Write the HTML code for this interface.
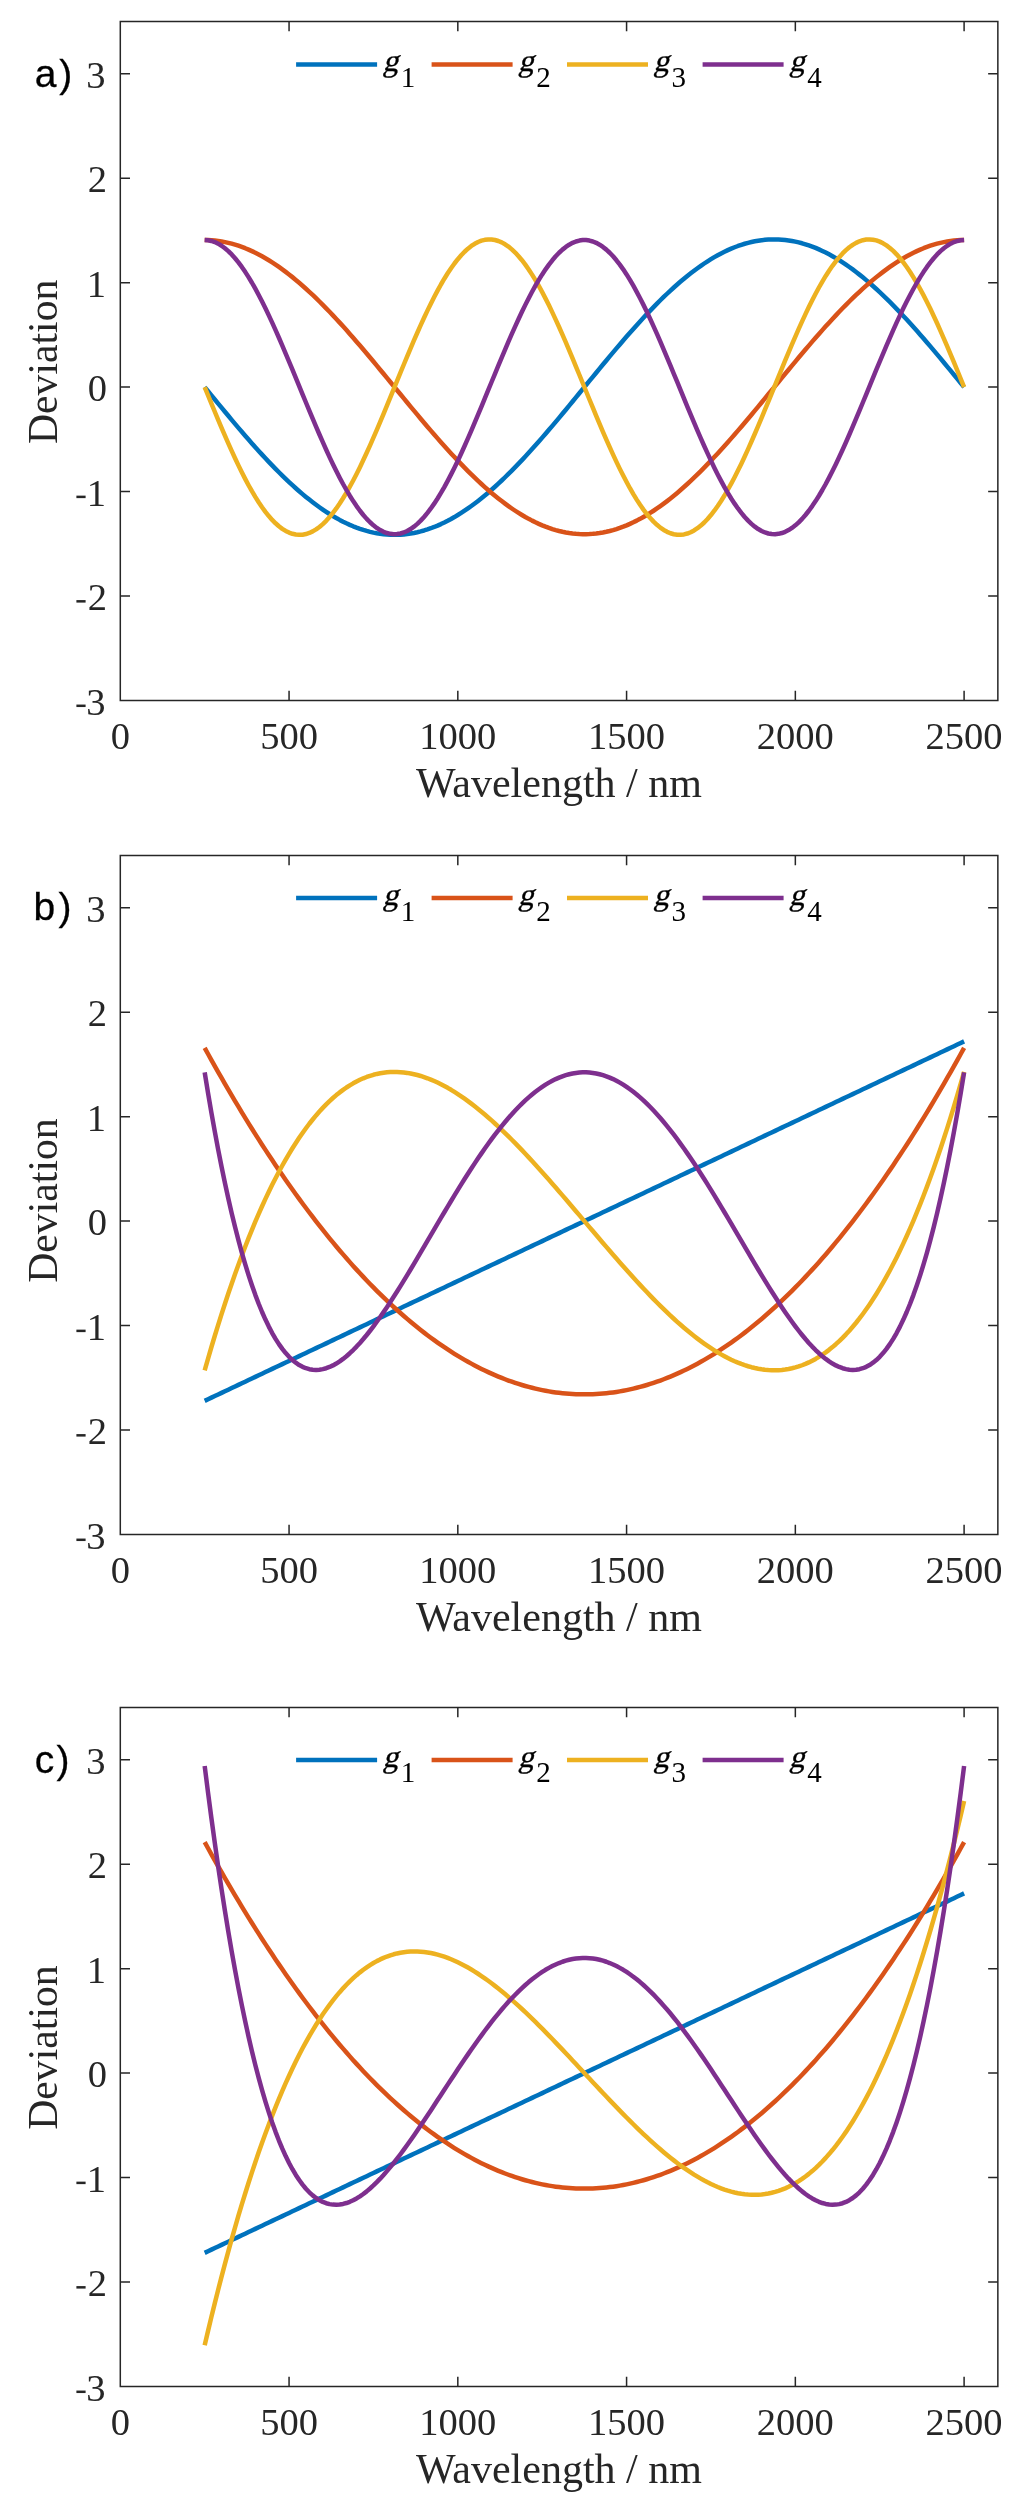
<!DOCTYPE html>
<html><head><meta charset="utf-8"><title>Deviation basis functions</title>
<style>html,body{margin:0;padding:0;background:#fff;}
svg{display:block;will-change:transform;}
.t{font-family:"Liberation Serif",serif;font-size:38.50px;fill:#262626;}
.l{font-family:"Liberation Serif",serif;font-size:42.00px;fill:#262626;}
.p{font-family:"Liberation Sans",sans-serif;font-size:39.00px;fill:#000;stroke:#000;stroke-width:0.30px;}
.g{font-family:"Liberation Serif",serif;font-size:31.00px;fill:#000;stroke:#000;stroke-width:0.35px;}
.s{font-family:"Liberation Serif",serif;font-size:29.00px;fill:#000;}
</style></head>
<body><svg width="1025" height="2511" viewBox="0 0 1025 2511">
<rect width="1025" height="2511" fill="#fff"/>
<polyline fill="none" stroke="#0072BD" stroke-width="4.50" stroke-linejoin="round" points="204.68,387.12 208.06,391.24 211.43,395.36 214.81,399.48 218.18,403.58 221.56,407.68 224.93,411.75 228.31,415.81 231.68,419.84 235.06,423.85 238.43,427.84 241.81,431.78 245.18,435.70 248.56,439.58 251.93,443.41 255.31,447.20 258.68,450.95 262.06,454.64 265.43,458.29 268.81,461.87 272.18,465.40 275.56,468.87 278.93,472.27 282.31,475.61 285.68,478.88 289.06,482.07 292.43,485.20 295.81,488.24 299.19,491.21 302.56,494.10 305.94,496.90 309.31,499.62 312.69,502.25 316.06,504.79 319.44,507.24 322.81,509.59 326.19,511.85 329.56,514.01 332.94,516.07 336.31,518.04 339.69,519.90 343.06,521.65 346.44,523.30 349.81,524.85 353.19,526.29 356.56,527.62 359.94,528.84 363.31,529.95 366.69,530.94 370.06,531.83 373.44,532.60 376.81,533.26 380.19,533.81 383.56,534.24 386.94,534.55 390.32,534.76 393.69,534.84 397.07,534.81 400.44,534.67 403.82,534.41 407.19,534.04 410.57,533.55 413.94,532.95 417.32,532.23 420.69,531.40 424.07,530.46 427.44,529.40 430.82,528.24 434.19,526.96 437.57,525.58 440.94,524.09 444.32,522.49 447.69,520.79 451.07,518.98 454.44,517.07 457.82,515.05 461.19,512.94 464.57,510.73 467.94,508.42 471.32,506.02 474.70,503.53 478.07,500.94 481.45,498.27 484.82,495.51 488.20,492.67 491.57,489.74 494.95,486.73 498.32,483.65 501.70,480.49 505.07,477.25 508.45,473.95 511.82,470.58 515.20,467.14 518.57,463.64 521.95,460.09 525.32,456.47 528.70,452.80 532.07,449.08 535.45,445.31 538.82,441.50 542.20,437.64 545.57,433.75 548.95,429.81 552.32,425.85 555.70,421.85 559.07,417.83 562.45,413.78 565.83,409.72 569.20,405.63 572.58,401.53 575.95,397.42 579.33,393.30 582.70,389.18 586.08,385.05 589.45,380.93 592.83,376.81 596.20,372.70 599.58,368.60 602.95,364.51 606.33,360.45 609.70,356.40 613.08,352.38 616.45,348.38 619.83,344.42 623.20,340.48 626.58,336.59 629.95,332.73 633.33,328.92 636.70,325.15 640.08,321.43 643.45,317.76 646.83,314.14 650.21,310.59 653.58,307.09 656.96,303.65 660.33,300.28 663.71,296.98 667.08,293.75 670.46,290.58 673.83,287.50 677.21,284.49 680.58,281.57 683.96,278.72 687.33,275.96 690.71,273.29 694.08,270.70 697.46,268.21 700.83,265.81 704.21,263.50 707.58,261.29 710.96,259.18 714.33,257.16 717.71,255.25 721.08,253.44 724.46,251.74 727.83,250.14 731.21,248.65 734.59,247.27 737.96,245.99 741.34,244.83 744.71,243.77 748.09,242.83 751.46,242.00 754.84,241.28 758.21,240.68 761.59,240.19 764.96,239.82 768.34,239.56 771.71,239.42 775.09,239.39 778.46,239.47 781.84,239.68 785.21,239.99 788.59,240.42 791.96,240.97 795.34,241.63 798.71,242.40 802.09,243.29 805.46,244.29 808.84,245.40 812.21,246.61 815.59,247.94 818.96,249.38 822.34,250.93 825.72,252.58 829.09,254.34 832.47,256.20 835.84,258.16 839.22,260.22 842.59,262.38 845.97,264.64 849.34,267.00 852.72,269.44 856.09,271.98 859.47,274.61 862.84,277.33 866.22,280.13 869.59,283.02 872.97,285.99 876.34,289.03 879.72,292.16 883.09,295.35 886.47,298.62 889.84,301.96 893.22,305.36 896.59,308.83 899.97,312.36 903.34,315.95 906.72,319.59 910.10,323.28 913.47,327.03 916.85,330.82 920.22,334.66 923.60,338.53 926.97,342.45 930.35,346.40 933.72,350.38 937.10,354.39 940.47,358.42 943.85,362.48 947.22,366.56 950.60,370.65 953.97,374.75 957.35,378.87 960.72,382.99 964.10,387.12"/>
<polyline fill="none" stroke="#D95319" stroke-width="4.50" stroke-linejoin="round" points="204.68,240.03 208.06,240.09 211.43,240.26 214.81,240.55 218.18,240.95 221.56,241.47 224.93,242.09 228.31,242.83 231.68,243.69 235.06,244.65 238.43,245.73 241.81,246.92 245.18,248.22 248.56,249.62 251.93,251.13 255.31,252.75 258.68,254.47 262.06,256.30 265.43,258.23 268.81,260.26 272.18,262.38 275.56,264.61 278.93,266.93 282.31,269.34 285.68,271.85 289.06,274.44 292.43,277.13 295.81,279.90 299.19,282.75 302.56,285.69 305.94,288.70 309.31,291.79 312.69,294.95 316.06,298.19 319.44,301.50 322.81,304.87 326.19,308.31 329.56,311.80 332.94,315.36 336.31,318.97 339.69,322.64 343.06,326.36 346.44,330.12 349.81,333.93 353.19,337.78 356.56,341.66 359.94,345.59 363.31,349.54 366.69,353.53 370.06,357.54 373.44,361.57 376.81,365.63 380.19,369.70 383.56,373.79 386.94,377.88 390.32,381.98 393.69,386.09 397.07,390.20 400.44,394.30 403.82,398.40 407.19,402.49 410.57,406.57 413.94,410.63 417.32,414.68 420.69,418.70 424.07,422.70 427.44,426.67 430.82,430.61 434.19,434.51 437.57,438.38 440.94,442.21 444.32,446.00 447.69,449.74 451.07,453.43 454.44,457.07 457.82,460.66 461.19,464.18 464.57,467.65 467.94,471.06 471.32,474.40 474.70,477.67 478.07,480.87 481.45,484.00 484.82,487.05 488.20,490.02 491.57,492.92 494.95,495.73 498.32,498.46 501.70,501.10 505.07,503.65 508.45,506.11 511.82,508.47 515.20,510.75 518.57,512.92 521.95,515.00 525.32,516.98 528.70,518.86 532.07,520.63 535.45,522.30 538.82,523.87 542.20,525.33 545.57,526.68 548.95,527.92 552.32,529.05 555.70,530.07 559.07,530.98 562.45,531.78 565.83,532.47 569.20,533.04 572.58,533.49 575.95,533.84 579.33,534.07 582.70,534.18 586.08,534.18 589.45,534.07 592.83,533.84 596.20,533.49 599.58,533.04 602.95,532.47 606.33,531.78 609.70,530.98 613.08,530.07 616.45,529.05 619.83,527.92 623.20,526.68 626.58,525.33 629.95,523.87 633.33,522.30 636.70,520.63 640.08,518.86 643.45,516.98 646.83,515.00 650.21,512.92 653.58,510.75 656.96,508.47 660.33,506.11 663.71,503.65 667.08,501.10 670.46,498.46 673.83,495.73 677.21,492.92 680.58,490.02 683.96,487.05 687.33,484.00 690.71,480.87 694.08,477.67 697.46,474.40 700.83,471.06 704.21,467.65 707.58,464.18 710.96,460.66 714.33,457.07 717.71,453.43 721.08,449.74 724.46,446.00 727.83,442.21 731.21,438.38 734.59,434.51 737.96,430.61 741.34,426.67 744.71,422.70 748.09,418.70 751.46,414.68 754.84,410.63 758.21,406.57 761.59,402.49 764.96,398.40 768.34,394.30 771.71,390.20 775.09,386.09 778.46,381.98 781.84,377.88 785.21,373.79 788.59,369.70 791.96,365.63 795.34,361.57 798.71,357.54 802.09,353.53 805.46,349.54 808.84,345.59 812.21,341.66 815.59,337.78 818.96,333.93 822.34,330.12 825.72,326.36 829.09,322.64 832.47,318.97 835.84,315.36 839.22,311.80 842.59,308.31 845.97,304.87 849.34,301.50 852.72,298.19 856.09,294.95 859.47,291.79 862.84,288.70 866.22,285.69 869.59,282.75 872.97,279.90 876.34,277.13 879.72,274.44 883.09,271.85 886.47,269.34 889.84,266.93 893.22,264.61 896.59,262.38 899.97,260.26 903.34,258.23 906.72,256.30 910.10,254.47 913.47,252.75 916.85,251.13 920.22,249.62 923.60,248.22 926.97,246.92 930.35,245.73 933.72,244.65 937.10,243.69 940.47,242.83 943.85,242.09 947.22,241.47 950.60,240.95 953.97,240.55 957.35,240.26 960.72,240.09 964.10,240.03"/>
<polyline fill="none" stroke="#EDB120" stroke-width="4.50" stroke-linejoin="round" points="204.68,387.12 208.06,395.36 211.43,403.58 214.81,411.75 218.18,419.84 221.56,427.84 224.93,435.70 228.31,443.41 231.68,450.95 235.06,458.29 238.43,465.40 241.81,472.27 245.18,478.88 248.56,485.20 251.93,491.21 255.31,496.90 258.68,502.25 262.06,507.24 265.43,511.85 268.81,516.07 272.18,519.90 275.56,523.30 278.93,526.29 282.31,528.84 285.68,530.94 289.06,532.60 292.43,533.81 295.81,534.55 299.19,534.84 302.56,534.67 305.94,534.04 309.31,532.95 312.69,531.40 316.06,529.40 319.44,526.96 322.81,524.09 326.19,520.79 329.56,517.07 332.94,512.94 336.31,508.42 339.69,503.53 343.06,498.27 346.44,492.67 349.81,486.73 353.19,480.49 356.56,473.95 359.94,467.14 363.31,460.09 366.69,452.80 370.06,445.31 373.44,437.64 376.81,429.81 380.19,421.85 383.56,413.78 386.94,405.63 390.32,397.42 393.69,389.18 397.07,380.93 400.44,372.70 403.82,364.51 407.19,356.40 410.57,348.38 413.94,340.48 417.32,332.73 420.69,325.15 424.07,317.76 427.44,310.59 430.82,303.65 434.19,296.98 437.57,290.58 440.94,284.49 444.32,278.72 447.69,273.29 451.07,268.21 454.44,263.50 457.82,259.18 461.19,255.25 464.57,251.74 467.94,248.65 471.32,245.99 474.70,243.77 478.07,242.00 481.45,240.68 484.82,239.82 488.20,239.42 491.57,239.47 494.95,239.99 498.32,240.97 501.70,242.40 505.07,244.29 508.45,246.61 511.82,249.38 515.20,252.58 518.57,256.20 521.95,260.22 525.32,264.64 528.70,269.44 532.07,274.61 535.45,280.13 538.82,285.99 542.20,292.16 545.57,298.62 548.95,305.36 552.32,312.36 555.70,319.59 559.07,327.03 562.45,334.66 565.83,342.45 569.20,350.38 572.58,358.42 575.95,366.56 579.33,374.75 582.70,382.99 586.08,391.24 589.45,399.48 592.83,407.68 596.20,415.81 599.58,423.85 602.95,431.78 606.33,439.58 609.70,447.20 613.08,454.64 616.45,461.87 619.83,468.87 623.20,475.61 626.58,482.07 629.95,488.24 633.33,494.10 636.70,499.62 640.08,504.79 643.45,509.59 646.83,514.01 650.21,518.04 653.58,521.65 656.96,524.85 660.33,527.62 663.71,529.95 667.08,531.83 670.46,533.26 673.83,534.24 677.21,534.76 680.58,534.81 683.96,534.41 687.33,533.55 690.71,532.23 694.08,530.46 697.46,528.24 700.83,525.58 704.21,522.49 707.58,518.98 710.96,515.05 714.33,510.73 717.71,506.02 721.08,500.94 724.46,495.51 727.83,489.74 731.21,483.65 734.59,477.25 737.96,470.58 741.34,463.64 744.71,456.47 748.09,449.08 751.46,441.50 754.84,433.75 758.21,425.85 761.59,417.83 764.96,409.72 768.34,401.53 771.71,393.30 775.09,385.05 778.46,376.81 781.84,368.60 785.21,360.45 788.59,352.38 791.96,344.42 795.34,336.59 798.71,328.92 802.09,321.43 805.46,314.14 808.84,307.09 812.21,300.28 815.59,293.75 818.96,287.50 822.34,281.57 825.72,275.96 829.09,270.70 832.47,265.81 835.84,261.29 839.22,257.16 842.59,253.44 845.97,250.14 849.34,247.27 852.72,244.83 856.09,242.83 859.47,241.28 862.84,240.19 866.22,239.56 869.59,239.39 872.97,239.68 876.34,240.42 879.72,241.63 883.09,243.29 886.47,245.40 889.84,247.94 893.22,250.93 896.59,254.34 899.97,258.16 903.34,262.38 906.72,267.00 910.10,271.98 913.47,277.33 916.85,283.02 920.22,289.03 923.60,295.35 926.97,301.96 930.35,308.83 933.72,315.95 937.10,323.28 940.47,330.82 943.85,338.53 947.22,346.40 950.60,354.39 953.97,362.48 957.35,370.65 960.72,378.87 964.10,387.12"/>
<polyline fill="none" stroke="#7E2F8E" stroke-width="4.50" stroke-linejoin="round" points="204.68,240.03 208.06,240.26 211.43,240.95 214.81,242.09 218.18,243.69 221.56,245.73 224.93,248.22 228.31,251.13 231.68,254.47 235.06,258.23 238.43,262.38 241.81,266.93 245.18,271.85 248.56,277.13 251.93,282.75 255.31,288.70 258.68,294.95 262.06,301.50 265.43,308.31 268.81,315.36 272.18,322.64 275.56,330.12 278.93,337.78 282.31,345.59 285.68,353.53 289.06,361.57 292.43,369.70 295.81,377.88 299.19,386.09 302.56,394.30 305.94,402.49 309.31,410.63 312.69,418.70 316.06,426.67 319.44,434.51 322.81,442.21 326.19,449.74 329.56,457.07 332.94,464.18 336.31,471.06 339.69,477.67 343.06,484.00 346.44,490.02 349.81,495.73 353.19,501.10 356.56,506.11 359.94,510.75 363.31,515.00 366.69,518.86 370.06,522.30 373.44,525.33 376.81,527.92 380.19,530.07 383.56,531.78 386.94,533.04 390.32,533.84 393.69,534.18 397.07,534.07 400.44,533.49 403.82,532.47 407.19,530.98 410.57,529.05 413.94,526.68 417.32,523.87 420.69,520.63 424.07,516.98 427.44,512.92 430.82,508.47 434.19,503.65 437.57,498.46 440.94,492.92 444.32,487.05 447.69,480.87 451.07,474.40 454.44,467.65 457.82,460.66 461.19,453.43 464.57,446.00 467.94,438.38 471.32,430.61 474.70,422.70 478.07,414.68 481.45,406.57 484.82,398.40 488.20,390.20 491.57,381.98 494.95,373.79 498.32,365.63 501.70,357.54 505.07,349.54 508.45,341.66 511.82,333.93 515.20,326.36 518.57,318.97 521.95,311.80 525.32,304.87 528.70,298.19 532.07,291.79 535.45,285.69 538.82,279.90 542.20,274.44 545.57,269.34 548.95,264.61 552.32,260.26 555.70,256.30 559.07,252.75 562.45,249.62 565.83,246.92 569.20,244.65 572.58,242.83 575.95,241.47 579.33,240.55 582.70,240.09 586.08,240.09 589.45,240.55 592.83,241.47 596.20,242.83 599.58,244.65 602.95,246.92 606.33,249.62 609.70,252.75 613.08,256.30 616.45,260.26 619.83,264.61 623.20,269.34 626.58,274.44 629.95,279.90 633.33,285.69 636.70,291.79 640.08,298.19 643.45,304.87 646.83,311.80 650.21,318.97 653.58,326.36 656.96,333.93 660.33,341.66 663.71,349.54 667.08,357.54 670.46,365.63 673.83,373.79 677.21,381.98 680.58,390.20 683.96,398.40 687.33,406.57 690.71,414.68 694.08,422.70 697.46,430.61 700.83,438.38 704.21,446.00 707.58,453.43 710.96,460.66 714.33,467.65 717.71,474.40 721.08,480.87 724.46,487.05 727.83,492.92 731.21,498.46 734.59,503.65 737.96,508.47 741.34,512.92 744.71,516.98 748.09,520.63 751.46,523.87 754.84,526.68 758.21,529.05 761.59,530.98 764.96,532.47 768.34,533.49 771.71,534.07 775.09,534.18 778.46,533.84 781.84,533.04 785.21,531.78 788.59,530.07 791.96,527.92 795.34,525.33 798.71,522.30 802.09,518.86 805.46,515.00 808.84,510.75 812.21,506.11 815.59,501.10 818.96,495.73 822.34,490.02 825.72,484.00 829.09,477.67 832.47,471.06 835.84,464.18 839.22,457.07 842.59,449.74 845.97,442.21 849.34,434.51 852.72,426.67 856.09,418.70 859.47,410.63 862.84,402.49 866.22,394.30 869.59,386.09 872.97,377.88 876.34,369.70 879.72,361.57 883.09,353.53 886.47,345.59 889.84,337.78 893.22,330.12 896.59,322.64 899.97,315.36 903.34,308.31 906.72,301.50 910.10,294.95 913.47,288.70 916.85,282.75 920.22,277.13 923.60,271.85 926.97,266.93 930.35,262.38 933.72,258.23 937.10,254.47 940.47,251.13 943.85,248.22 947.22,245.73 950.60,243.69 953.97,242.09 957.35,240.95 960.72,240.26 964.10,240.03"/>
<rect x="120.30" y="21.50" width="877.55" height="679.00" fill="none" stroke="#262626" stroke-width="1.5"/>
<path d="M289.06 700.50V690.80M289.06 21.50V31.20M457.82 700.50V690.80M457.82 21.50V31.20M626.58 700.50V690.80M626.58 21.50V31.20M795.34 700.50V690.80M795.34 21.50V31.20M964.10 700.50V690.80M964.10 21.50V31.20M120.30 596.04H130.00M997.85 596.04H988.15M120.30 491.58H130.00M997.85 491.58H988.15M120.30 387.12H130.00M997.85 387.12H988.15M120.30 282.65H130.00M997.85 282.65H988.15M120.30 178.19H130.00M997.85 178.19H988.15M120.30 73.73H130.00M997.85 73.73H988.15" stroke="#262626" stroke-width="1.5" fill="none"/>
<text class="t" x="120.30" y="749.30" text-anchor="middle">0</text>
<text class="t" x="289.06" y="749.30" text-anchor="middle">500</text>
<text class="t" x="457.82" y="749.30" text-anchor="middle">1000</text>
<text class="t" x="626.58" y="749.30" text-anchor="middle">1500</text>
<text class="t" x="795.34" y="749.30" text-anchor="middle">2000</text>
<text class="t" x="964.10" y="749.30" text-anchor="middle">2500</text>
<text class="t" x="105.50" y="714.70" text-anchor="end">3</text>
<rect x="76.40" y="704.55" width="9.20" height="2.50" fill="#262626"/>
<text class="t" x="106.95" y="610.24" text-anchor="end">2</text>
<rect x="76.40" y="600.09" width="9.20" height="2.50" fill="#262626"/>
<text class="t" x="106.05" y="505.78" text-anchor="end">1</text>
<rect x="76.40" y="495.63" width="9.20" height="2.50" fill="#262626"/>
<text class="t" x="107.00" y="401.32" text-anchor="end">0</text>
<text class="t" x="106.05" y="296.85" text-anchor="end">1</text>
<text class="t" x="106.95" y="192.39" text-anchor="end">2</text>
<text class="t" x="105.50" y="87.93" text-anchor="end">3</text>
<text class="l" x="559.00" y="797.30" text-anchor="middle">Wavelength / nm</text>
<text class="l" style="font-size:41.70px" transform="translate(57.00 361.85) rotate(-90)" text-anchor="middle">Deviation</text>
<text class="p" x="34.80" y="86.83">a</text><text class="p" x="59.30" y="86.83">)</text>
<path d="M296.10 64.55H377.10" stroke="#0072BD" stroke-width="4.50"/>
<text class="g" transform="translate(382.70 71.15) skewX(-14.0)">g</text><text class="s" x="400.70" y="86.95">1</text>
<path d="M431.60 64.55H512.60" stroke="#D95319" stroke-width="4.50"/>
<text class="g" transform="translate(518.20 71.15) skewX(-14.0)">g</text><text class="s" x="536.20" y="86.95">2</text>
<path d="M567.00 64.55H648.00" stroke="#EDB120" stroke-width="4.50"/>
<text class="g" transform="translate(653.60 71.15) skewX(-14.0)">g</text><text class="s" x="671.60" y="86.95">3</text>
<path d="M702.60 64.55H783.60" stroke="#7E2F8E" stroke-width="4.50"/>
<text class="g" transform="translate(789.20 71.15) skewX(-14.0)">g</text><text class="s" x="807.20" y="86.95">4</text>
<polyline fill="none" stroke="#0072BD" stroke-width="4.50" stroke-linejoin="round" points="204.68,1400.85 208.06,1399.25 211.43,1397.65 214.81,1396.06 218.18,1394.46 221.56,1392.86 224.93,1391.26 228.31,1389.67 231.68,1388.07 235.06,1386.47 238.43,1384.87 241.81,1383.28 245.18,1381.68 248.56,1380.08 251.93,1378.48 255.31,1376.89 258.68,1375.29 262.06,1373.69 265.43,1372.09 268.81,1370.50 272.18,1368.90 275.56,1367.30 278.93,1365.70 282.31,1364.10 285.68,1362.51 289.06,1360.91 292.43,1359.31 295.81,1357.71 299.19,1356.12 302.56,1354.52 305.94,1352.92 309.31,1351.32 312.69,1349.73 316.06,1348.13 319.44,1346.53 322.81,1344.93 326.19,1343.34 329.56,1341.74 332.94,1340.14 336.31,1338.54 339.69,1336.94 343.06,1335.35 346.44,1333.75 349.81,1332.15 353.19,1330.55 356.56,1328.96 359.94,1327.36 363.31,1325.76 366.69,1324.16 370.06,1322.57 373.44,1320.97 376.81,1319.37 380.19,1317.77 383.56,1316.18 386.94,1314.58 390.32,1312.98 393.69,1311.38 397.07,1309.78 400.44,1308.19 403.82,1306.59 407.19,1304.99 410.57,1303.39 413.94,1301.80 417.32,1300.20 420.69,1298.60 424.07,1297.00 427.44,1295.41 430.82,1293.81 434.19,1292.21 437.57,1290.61 440.94,1289.02 444.32,1287.42 447.69,1285.82 451.07,1284.22 454.44,1282.62 457.82,1281.03 461.19,1279.43 464.57,1277.83 467.94,1276.23 471.32,1274.64 474.70,1273.04 478.07,1271.44 481.45,1269.84 484.82,1268.25 488.20,1266.65 491.57,1265.05 494.95,1263.45 498.32,1261.86 501.70,1260.26 505.07,1258.66 508.45,1257.06 511.82,1255.46 515.20,1253.87 518.57,1252.27 521.95,1250.67 525.32,1249.07 528.70,1247.48 532.07,1245.88 535.45,1244.28 538.82,1242.68 542.20,1241.09 545.57,1239.49 548.95,1237.89 552.32,1236.29 555.70,1234.70 559.07,1233.10 562.45,1231.50 565.83,1229.90 569.20,1228.30 572.58,1226.71 575.95,1225.11 579.33,1223.51 582.70,1221.91 586.08,1220.32 589.45,1218.72 592.83,1217.12 596.20,1215.52 599.58,1213.93 602.95,1212.33 606.33,1210.73 609.70,1209.13 613.08,1207.54 616.45,1205.94 619.83,1204.34 623.20,1202.74 626.58,1201.14 629.95,1199.55 633.33,1197.95 636.70,1196.35 640.08,1194.75 643.45,1193.16 646.83,1191.56 650.21,1189.96 653.58,1188.36 656.96,1186.77 660.33,1185.17 663.71,1183.57 667.08,1181.97 670.46,1180.38 673.83,1178.78 677.21,1177.18 680.58,1175.58 683.96,1173.98 687.33,1172.39 690.71,1170.79 694.08,1169.19 697.46,1167.59 700.83,1166.00 704.21,1164.40 707.58,1162.80 710.96,1161.20 714.33,1159.61 717.71,1158.01 721.08,1156.41 724.46,1154.81 727.83,1153.22 731.21,1151.62 734.59,1150.02 737.96,1148.42 741.34,1146.82 744.71,1145.23 748.09,1143.63 751.46,1142.03 754.84,1140.43 758.21,1138.84 761.59,1137.24 764.96,1135.64 768.34,1134.04 771.71,1132.45 775.09,1130.85 778.46,1129.25 781.84,1127.65 785.21,1126.06 788.59,1124.46 791.96,1122.86 795.34,1121.26 798.71,1119.67 802.09,1118.07 805.46,1116.47 808.84,1114.87 812.21,1113.27 815.59,1111.68 818.96,1110.08 822.34,1108.48 825.72,1106.88 829.09,1105.29 832.47,1103.69 835.84,1102.09 839.22,1100.49 842.59,1098.90 845.97,1097.30 849.34,1095.70 852.72,1094.10 856.09,1092.51 859.47,1090.91 862.84,1089.31 866.22,1087.71 869.59,1086.11 872.97,1084.52 876.34,1082.92 879.72,1081.32 883.09,1079.72 886.47,1078.13 889.84,1076.53 893.22,1074.93 896.59,1073.33 899.97,1071.74 903.34,1070.14 906.72,1068.54 910.10,1066.94 913.47,1065.35 916.85,1063.75 920.22,1062.15 923.60,1060.55 926.97,1058.95 930.35,1057.36 933.72,1055.76 937.10,1054.16 940.47,1052.56 943.85,1050.97 947.22,1049.37 950.60,1047.77 953.97,1046.17 957.35,1044.58 960.72,1042.98 964.10,1041.38"/>
<polyline fill="none" stroke="#D95319" stroke-width="4.50" stroke-linejoin="round" points="204.68,1047.85 208.06,1053.98 211.43,1060.06 214.81,1066.09 218.18,1072.06 221.56,1077.97 224.93,1083.83 228.31,1089.63 231.68,1095.38 235.06,1101.08 238.43,1106.72 241.81,1112.30 245.18,1117.83 248.56,1123.31 251.93,1128.73 255.31,1134.10 258.68,1139.41 262.06,1144.67 265.43,1149.87 268.81,1155.02 272.18,1160.11 275.56,1165.15 278.93,1170.13 282.31,1175.06 285.68,1179.93 289.06,1184.75 292.43,1189.52 295.81,1194.22 299.19,1198.88 302.56,1203.48 305.94,1208.02 309.31,1212.51 312.69,1216.95 316.06,1221.33 319.44,1225.66 322.81,1229.93 326.19,1234.14 329.56,1238.31 332.94,1242.41 336.31,1246.47 339.69,1250.46 343.06,1254.41 346.44,1258.29 349.81,1262.13 353.19,1265.91 356.56,1269.63 359.94,1273.30 363.31,1276.91 366.69,1280.47 370.06,1283.98 373.44,1287.43 376.81,1290.82 380.19,1294.16 383.56,1297.45 386.94,1300.68 390.32,1303.85 393.69,1306.98 397.07,1310.04 400.44,1313.05 403.82,1316.01 407.19,1318.91 410.57,1321.76 413.94,1324.55 417.32,1327.29 420.69,1329.98 424.07,1332.60 427.44,1335.18 430.82,1337.70 434.19,1340.16 437.57,1342.57 440.94,1344.92 444.32,1347.22 447.69,1349.47 451.07,1351.66 454.44,1353.80 457.82,1355.88 461.19,1357.90 464.57,1359.87 467.94,1361.79 471.32,1363.65 474.70,1365.46 478.07,1367.21 481.45,1368.91 484.82,1370.55 488.20,1372.14 491.57,1373.67 494.95,1375.15 498.32,1376.58 501.70,1377.94 505.07,1379.26 508.45,1380.52 511.82,1381.72 515.20,1382.87 518.57,1383.97 521.95,1385.01 525.32,1385.99 528.70,1386.93 532.07,1387.80 535.45,1388.62 538.82,1389.39 542.20,1390.10 545.57,1390.76 548.95,1391.36 552.32,1391.91 555.70,1392.40 559.07,1392.84 562.45,1393.22 565.83,1393.55 569.20,1393.83 572.58,1394.04 575.95,1394.21 579.33,1394.32 582.70,1394.37 586.08,1394.37 589.45,1394.32 592.83,1394.21 596.20,1394.04 599.58,1393.83 602.95,1393.55 606.33,1393.22 609.70,1392.84 613.08,1392.40 616.45,1391.91 619.83,1391.36 623.20,1390.76 626.58,1390.10 629.95,1389.39 633.33,1388.62 636.70,1387.80 640.08,1386.93 643.45,1385.99 646.83,1385.01 650.21,1383.97 653.58,1382.87 656.96,1381.72 660.33,1380.52 663.71,1379.26 667.08,1377.94 670.46,1376.58 673.83,1375.15 677.21,1373.67 680.58,1372.14 683.96,1370.55 687.33,1368.91 690.71,1367.21 694.08,1365.46 697.46,1363.65 700.83,1361.79 704.21,1359.87 707.58,1357.90 710.96,1355.88 714.33,1353.80 717.71,1351.66 721.08,1349.47 724.46,1347.22 727.83,1344.92 731.21,1342.57 734.59,1340.16 737.96,1337.70 741.34,1335.18 744.71,1332.60 748.09,1329.98 751.46,1327.29 754.84,1324.55 758.21,1321.76 761.59,1318.91 764.96,1316.01 768.34,1313.05 771.71,1310.04 775.09,1306.98 778.46,1303.85 781.84,1300.68 785.21,1297.45 788.59,1294.16 791.96,1290.82 795.34,1287.43 798.71,1283.98 802.09,1280.47 805.46,1276.91 808.84,1273.30 812.21,1269.63 815.59,1265.91 818.96,1262.13 822.34,1258.29 825.72,1254.41 829.09,1250.46 832.47,1246.47 835.84,1242.41 839.22,1238.31 842.59,1234.14 845.97,1229.93 849.34,1225.66 852.72,1221.33 856.09,1216.95 859.47,1212.51 862.84,1208.02 866.22,1203.48 869.59,1198.88 872.97,1194.22 876.34,1189.52 879.72,1184.75 883.09,1179.93 886.47,1175.06 889.84,1170.13 893.22,1165.15 896.59,1160.11 899.97,1155.02 903.34,1149.87 906.72,1144.67 910.10,1139.41 913.47,1134.10 916.85,1128.73 920.22,1123.31 923.60,1117.83 926.97,1112.30 930.35,1106.72 933.72,1101.08 937.10,1095.38 940.47,1089.63 943.85,1083.83 947.22,1077.97 950.60,1072.06 953.97,1066.09 957.35,1060.06 960.72,1053.98 964.10,1047.85"/>
<polyline fill="none" stroke="#EDB120" stroke-width="4.50" stroke-linejoin="round" points="204.68,1370.30 208.06,1358.51 211.43,1347.00 214.81,1335.76 218.18,1324.80 221.56,1314.11 224.93,1303.70 228.31,1293.55 231.68,1283.66 235.06,1274.04 238.43,1264.68 241.81,1255.58 245.18,1246.73 248.56,1238.13 251.93,1229.79 255.31,1221.69 258.68,1213.84 262.06,1206.23 265.43,1198.86 268.81,1191.73 272.18,1184.83 275.56,1178.17 278.93,1171.73 282.31,1165.53 285.68,1159.54 289.06,1153.79 292.43,1148.25 295.81,1142.93 299.19,1137.82 302.56,1132.93 305.94,1128.24 309.31,1123.77 312.69,1119.50 316.06,1115.43 319.44,1111.56 322.81,1107.89 326.19,1104.41 329.56,1101.13 332.94,1098.03 336.31,1095.12 339.69,1092.40 343.06,1089.86 346.44,1087.50 349.81,1085.32 353.19,1083.31 356.56,1081.47 359.94,1079.81 363.31,1078.31 366.69,1076.98 370.06,1075.80 373.44,1074.79 376.81,1073.94 380.19,1073.24 383.56,1072.69 386.94,1072.29 390.32,1072.04 393.69,1071.93 397.07,1071.97 400.44,1072.14 403.82,1072.45 407.19,1072.90 410.57,1073.48 413.94,1074.19 417.32,1075.02 420.69,1075.98 424.07,1077.06 427.44,1078.26 430.82,1079.58 434.19,1081.01 437.57,1082.56 440.94,1084.21 444.32,1085.97 447.69,1087.83 451.07,1089.80 454.44,1091.87 457.82,1094.03 461.19,1096.29 464.57,1098.63 467.94,1101.07 471.32,1103.60 474.70,1106.21 478.07,1108.90 481.45,1111.67 484.82,1114.51 488.20,1117.43 491.57,1120.43 494.95,1123.49 498.32,1126.62 501.70,1129.81 505.07,1133.06 508.45,1136.38 511.82,1139.75 515.20,1143.17 518.57,1146.65 521.95,1150.17 525.32,1153.74 528.70,1157.36 532.07,1161.01 535.45,1164.71 538.82,1168.44 542.20,1172.20 545.57,1176.00 548.95,1179.83 552.32,1183.68 555.70,1187.56 559.07,1191.45 562.45,1195.37 565.83,1199.30 569.20,1203.25 572.58,1207.21 575.95,1211.18 579.33,1215.15 582.70,1219.13 586.08,1223.10 589.45,1227.08 592.83,1231.05 596.20,1235.02 599.58,1238.98 602.95,1242.93 606.33,1246.86 609.70,1250.78 613.08,1254.67 616.45,1258.55 619.83,1262.40 623.20,1266.23 626.58,1270.03 629.95,1273.79 633.33,1277.52 636.70,1281.22 640.08,1284.88 643.45,1288.49 646.83,1292.06 650.21,1295.59 653.58,1299.06 656.96,1302.48 660.33,1305.85 663.71,1309.17 667.08,1312.42 670.46,1315.61 673.83,1318.74 677.21,1321.80 680.58,1324.80 683.96,1327.72 687.33,1330.56 690.71,1333.33 694.08,1336.02 697.46,1338.63 700.83,1341.16 704.21,1343.60 707.58,1345.95 710.96,1348.20 714.33,1350.36 717.71,1352.43 721.08,1354.40 724.46,1356.26 727.83,1358.02 731.21,1359.68 734.59,1361.22 737.96,1362.65 741.34,1363.97 744.71,1365.17 748.09,1366.25 751.46,1367.21 754.84,1368.05 758.21,1368.75 761.59,1369.33 764.96,1369.78 768.34,1370.09 771.71,1370.26 775.09,1370.30 778.46,1370.19 781.84,1369.94 785.21,1369.54 788.59,1368.99 791.96,1368.29 795.34,1367.44 798.71,1366.43 802.09,1365.25 805.46,1363.92 808.84,1362.42 812.21,1360.76 815.59,1358.92 818.96,1356.91 822.34,1354.73 825.72,1352.37 829.09,1349.83 832.47,1347.11 835.84,1344.20 839.22,1341.11 842.59,1337.82 845.97,1334.34 849.34,1330.67 852.72,1326.80 856.09,1322.74 859.47,1318.46 862.84,1313.99 866.22,1309.30 869.59,1304.41 872.97,1299.30 876.34,1293.98 879.72,1288.44 883.09,1282.69 886.47,1276.70 889.84,1270.50 893.22,1264.06 896.59,1257.40 899.97,1250.50 903.34,1243.37 906.72,1236.00 910.10,1228.39 913.47,1220.54 916.85,1212.44 920.22,1204.10 923.60,1195.50 926.97,1186.65 930.35,1177.55 933.72,1168.19 937.10,1158.57 940.47,1148.68 943.85,1138.54 947.22,1128.12 950.60,1117.43 953.97,1106.47 957.35,1095.23 960.72,1083.72 964.10,1071.93"/>
<polyline fill="none" stroke="#7E2F8E" stroke-width="4.50" stroke-linejoin="round" points="204.68,1072.32 208.06,1093.02 211.43,1112.79 214.81,1131.66 218.18,1149.66 221.56,1166.79 224.93,1183.08 228.31,1198.54 231.68,1213.20 235.06,1227.08 238.43,1240.18 241.81,1252.54 245.18,1264.17 248.56,1275.09 251.93,1285.31 255.31,1294.85 258.68,1303.73 262.06,1311.98 265.43,1319.59 268.81,1326.60 272.18,1333.02 275.56,1338.86 278.93,1344.14 282.31,1348.88 285.68,1353.10 289.06,1356.80 292.43,1360.01 295.81,1362.74 299.19,1365.01 302.56,1366.83 305.94,1368.21 309.31,1369.18 312.69,1369.74 316.06,1369.91 319.44,1369.71 322.81,1369.14 326.19,1368.23 329.56,1366.98 332.94,1365.41 336.31,1363.54 339.69,1361.37 343.06,1358.92 346.44,1356.21 349.81,1353.24 353.19,1350.02 356.56,1346.58 359.94,1342.92 363.31,1339.05 366.69,1334.99 370.06,1330.74 373.44,1326.32 376.81,1321.74 380.19,1317.02 383.56,1312.15 386.94,1307.16 390.32,1302.05 393.69,1296.83 397.07,1291.52 400.44,1286.12 403.82,1280.64 407.19,1275.10 410.57,1269.50 413.94,1263.85 417.32,1258.16 420.69,1252.44 424.07,1246.70 427.44,1240.94 430.82,1235.18 434.19,1229.43 437.57,1223.68 440.94,1217.96 444.32,1212.26 447.69,1206.60 451.07,1200.98 454.44,1195.40 457.82,1189.89 461.19,1184.43 464.57,1179.05 467.94,1173.74 471.32,1168.51 474.70,1163.37 478.07,1158.33 481.45,1153.38 484.82,1148.54 488.20,1143.81 491.57,1139.20 494.95,1134.70 498.32,1130.34 501.70,1126.10 505.07,1122.00 508.45,1118.03 511.82,1114.21 515.20,1110.53 518.57,1107.01 521.95,1103.64 525.32,1100.43 528.70,1097.38 532.07,1094.49 535.45,1091.77 538.82,1089.22 542.20,1086.84 545.57,1084.63 548.95,1082.60 552.32,1080.75 555.70,1079.08 559.07,1077.59 562.45,1076.28 565.83,1075.16 569.20,1074.22 572.58,1073.47 575.95,1072.91 579.33,1072.53 582.70,1072.34 586.08,1072.34 589.45,1072.53 592.83,1072.91 596.20,1073.47 599.58,1074.22 602.95,1075.16 606.33,1076.28 609.70,1077.59 613.08,1079.08 616.45,1080.75 619.83,1082.60 623.20,1084.63 626.58,1086.84 629.95,1089.22 633.33,1091.77 636.70,1094.49 640.08,1097.38 643.45,1100.43 646.83,1103.64 650.21,1107.01 653.58,1110.53 656.96,1114.21 660.33,1118.03 663.71,1122.00 667.08,1126.10 670.46,1130.34 673.83,1134.70 677.21,1139.20 680.58,1143.81 683.96,1148.54 687.33,1153.38 690.71,1158.33 694.08,1163.37 697.46,1168.51 700.83,1173.74 704.21,1179.05 707.58,1184.43 710.96,1189.89 714.33,1195.40 717.71,1200.98 721.08,1206.60 724.46,1212.26 727.83,1217.96 731.21,1223.68 734.59,1229.43 737.96,1235.18 741.34,1240.94 744.71,1246.70 748.09,1252.44 751.46,1258.16 754.84,1263.85 758.21,1269.50 761.59,1275.10 764.96,1280.64 768.34,1286.12 771.71,1291.52 775.09,1296.83 778.46,1302.05 781.84,1307.16 785.21,1312.15 788.59,1317.02 791.96,1321.74 795.34,1326.32 798.71,1330.74 802.09,1334.99 805.46,1339.05 808.84,1342.92 812.21,1346.58 815.59,1350.02 818.96,1353.24 822.34,1356.21 825.72,1358.92 829.09,1361.37 832.47,1363.54 835.84,1365.41 839.22,1366.98 842.59,1368.23 845.97,1369.14 849.34,1369.71 852.72,1369.91 856.09,1369.74 859.47,1369.18 862.84,1368.21 866.22,1366.83 869.59,1365.01 872.97,1362.74 876.34,1360.01 879.72,1356.80 883.09,1353.10 886.47,1348.88 889.84,1344.14 893.22,1338.86 896.59,1333.02 899.97,1326.60 903.34,1319.59 906.72,1311.98 910.10,1303.73 913.47,1294.85 916.85,1285.31 920.22,1275.09 923.60,1264.17 926.97,1252.54 930.35,1240.18 933.72,1227.08 937.10,1213.20 940.47,1198.54 943.85,1183.08 947.22,1166.79 950.60,1149.66 953.97,1131.66 957.35,1112.79 960.72,1093.02 964.10,1072.32"/>
<rect x="120.30" y="855.50" width="877.55" height="679.00" fill="none" stroke="#262626" stroke-width="1.5"/>
<path d="M289.06 1534.50V1524.80M289.06 855.50V865.20M457.82 1534.50V1524.80M457.82 855.50V865.20M626.58 1534.50V1524.80M626.58 855.50V865.20M795.34 1534.50V1524.80M795.34 855.50V865.20M964.10 1534.50V1524.80M964.10 855.50V865.20M120.30 1430.04H130.00M997.85 1430.04H988.15M120.30 1325.58H130.00M997.85 1325.58H988.15M120.30 1221.12H130.00M997.85 1221.12H988.15M120.30 1116.65H130.00M997.85 1116.65H988.15M120.30 1012.19H130.00M997.85 1012.19H988.15M120.30 907.73H130.00M997.85 907.73H988.15" stroke="#262626" stroke-width="1.5" fill="none"/>
<text class="t" x="120.30" y="1583.30" text-anchor="middle">0</text>
<text class="t" x="289.06" y="1583.30" text-anchor="middle">500</text>
<text class="t" x="457.82" y="1583.30" text-anchor="middle">1000</text>
<text class="t" x="626.58" y="1583.30" text-anchor="middle">1500</text>
<text class="t" x="795.34" y="1583.30" text-anchor="middle">2000</text>
<text class="t" x="964.10" y="1583.30" text-anchor="middle">2500</text>
<text class="t" x="105.50" y="1548.70" text-anchor="end">3</text>
<rect x="76.40" y="1538.55" width="9.20" height="2.50" fill="#262626"/>
<text class="t" x="106.95" y="1444.24" text-anchor="end">2</text>
<rect x="76.40" y="1434.09" width="9.20" height="2.50" fill="#262626"/>
<text class="t" x="106.05" y="1339.78" text-anchor="end">1</text>
<rect x="76.40" y="1329.63" width="9.20" height="2.50" fill="#262626"/>
<text class="t" x="107.00" y="1235.32" text-anchor="end">0</text>
<text class="t" x="106.05" y="1130.85" text-anchor="end">1</text>
<text class="t" x="106.95" y="1026.39" text-anchor="end">2</text>
<text class="t" x="105.50" y="921.93" text-anchor="end">3</text>
<text class="l" x="559.00" y="1631.30" text-anchor="middle">Wavelength / nm</text>
<text class="l" style="font-size:41.70px" transform="translate(57.00 1200.55) rotate(-90)" text-anchor="middle">Deviation</text>
<text class="p" x="33.60" y="919.53">b</text><text class="p" x="58.50" y="919.53">)</text>
<path d="M296.10 898.10H377.10" stroke="#0072BD" stroke-width="4.50"/>
<text class="g" transform="translate(382.70 904.70) skewX(-14.0)">g</text><text class="s" x="400.70" y="920.50">1</text>
<path d="M431.60 898.10H512.60" stroke="#D95319" stroke-width="4.50"/>
<text class="g" transform="translate(518.20 904.70) skewX(-14.0)">g</text><text class="s" x="536.20" y="920.50">2</text>
<path d="M567.00 898.10H648.00" stroke="#EDB120" stroke-width="4.50"/>
<text class="g" transform="translate(653.60 904.70) skewX(-14.0)">g</text><text class="s" x="671.60" y="920.50">3</text>
<path d="M702.60 898.10H783.60" stroke="#7E2F8E" stroke-width="4.50"/>
<text class="g" transform="translate(789.20 904.70) skewX(-14.0)">g</text><text class="s" x="807.20" y="920.50">4</text>
<polyline fill="none" stroke="#0072BD" stroke-width="4.50" stroke-linejoin="round" points="204.68,2252.85 208.06,2251.25 211.43,2249.65 214.81,2248.06 218.18,2246.46 221.56,2244.86 224.93,2243.26 228.31,2241.67 231.68,2240.07 235.06,2238.47 238.43,2236.87 241.81,2235.28 245.18,2233.68 248.56,2232.08 251.93,2230.48 255.31,2228.89 258.68,2227.29 262.06,2225.69 265.43,2224.09 268.81,2222.50 272.18,2220.90 275.56,2219.30 278.93,2217.70 282.31,2216.10 285.68,2214.51 289.06,2212.91 292.43,2211.31 295.81,2209.71 299.19,2208.12 302.56,2206.52 305.94,2204.92 309.31,2203.32 312.69,2201.73 316.06,2200.13 319.44,2198.53 322.81,2196.93 326.19,2195.34 329.56,2193.74 332.94,2192.14 336.31,2190.54 339.69,2188.94 343.06,2187.35 346.44,2185.75 349.81,2184.15 353.19,2182.55 356.56,2180.96 359.94,2179.36 363.31,2177.76 366.69,2176.16 370.06,2174.57 373.44,2172.97 376.81,2171.37 380.19,2169.77 383.56,2168.18 386.94,2166.58 390.32,2164.98 393.69,2163.38 397.07,2161.78 400.44,2160.19 403.82,2158.59 407.19,2156.99 410.57,2155.39 413.94,2153.80 417.32,2152.20 420.69,2150.60 424.07,2149.00 427.44,2147.41 430.82,2145.81 434.19,2144.21 437.57,2142.61 440.94,2141.02 444.32,2139.42 447.69,2137.82 451.07,2136.22 454.44,2134.62 457.82,2133.03 461.19,2131.43 464.57,2129.83 467.94,2128.23 471.32,2126.64 474.70,2125.04 478.07,2123.44 481.45,2121.84 484.82,2120.25 488.20,2118.65 491.57,2117.05 494.95,2115.45 498.32,2113.86 501.70,2112.26 505.07,2110.66 508.45,2109.06 511.82,2107.46 515.20,2105.87 518.57,2104.27 521.95,2102.67 525.32,2101.07 528.70,2099.48 532.07,2097.88 535.45,2096.28 538.82,2094.68 542.20,2093.09 545.57,2091.49 548.95,2089.89 552.32,2088.29 555.70,2086.70 559.07,2085.10 562.45,2083.50 565.83,2081.90 569.20,2080.30 572.58,2078.71 575.95,2077.11 579.33,2075.51 582.70,2073.91 586.08,2072.32 589.45,2070.72 592.83,2069.12 596.20,2067.52 599.58,2065.93 602.95,2064.33 606.33,2062.73 609.70,2061.13 613.08,2059.54 616.45,2057.94 619.83,2056.34 623.20,2054.74 626.58,2053.14 629.95,2051.55 633.33,2049.95 636.70,2048.35 640.08,2046.75 643.45,2045.16 646.83,2043.56 650.21,2041.96 653.58,2040.36 656.96,2038.77 660.33,2037.17 663.71,2035.57 667.08,2033.97 670.46,2032.38 673.83,2030.78 677.21,2029.18 680.58,2027.58 683.96,2025.98 687.33,2024.39 690.71,2022.79 694.08,2021.19 697.46,2019.59 700.83,2018.00 704.21,2016.40 707.58,2014.80 710.96,2013.20 714.33,2011.61 717.71,2010.01 721.08,2008.41 724.46,2006.81 727.83,2005.22 731.21,2003.62 734.59,2002.02 737.96,2000.42 741.34,1998.82 744.71,1997.23 748.09,1995.63 751.46,1994.03 754.84,1992.43 758.21,1990.84 761.59,1989.24 764.96,1987.64 768.34,1986.04 771.71,1984.45 775.09,1982.85 778.46,1981.25 781.84,1979.65 785.21,1978.06 788.59,1976.46 791.96,1974.86 795.34,1973.26 798.71,1971.67 802.09,1970.07 805.46,1968.47 808.84,1966.87 812.21,1965.27 815.59,1963.68 818.96,1962.08 822.34,1960.48 825.72,1958.88 829.09,1957.29 832.47,1955.69 835.84,1954.09 839.22,1952.49 842.59,1950.90 845.97,1949.30 849.34,1947.70 852.72,1946.10 856.09,1944.51 859.47,1942.91 862.84,1941.31 866.22,1939.71 869.59,1938.11 872.97,1936.52 876.34,1934.92 879.72,1933.32 883.09,1931.72 886.47,1930.13 889.84,1928.53 893.22,1926.93 896.59,1925.33 899.97,1923.74 903.34,1922.14 906.72,1920.54 910.10,1918.94 913.47,1917.35 916.85,1915.75 920.22,1914.15 923.60,1912.55 926.97,1910.95 930.35,1909.36 933.72,1907.76 937.10,1906.16 940.47,1904.56 943.85,1902.97 947.22,1901.37 950.60,1899.77 953.97,1898.17 957.35,1896.58 960.72,1894.98 964.10,1893.38"/>
<polyline fill="none" stroke="#D95319" stroke-width="4.50" stroke-linejoin="round" points="204.68,1842.10 208.06,1848.23 211.43,1854.31 214.81,1860.33 218.18,1866.30 221.56,1872.21 224.93,1878.07 228.31,1883.88 231.68,1889.63 235.06,1895.32 238.43,1900.96 241.81,1906.55 245.18,1912.08 248.56,1917.56 251.93,1922.98 255.31,1928.34 258.68,1933.66 262.06,1938.91 265.43,1944.11 268.81,1949.26 272.18,1954.35 275.56,1959.39 278.93,1964.38 282.31,1969.30 285.68,1974.18 289.06,1979.00 292.43,1983.76 295.81,1988.47 299.19,1993.12 302.56,1997.72 305.94,2002.27 309.31,2006.76 312.69,2011.20 316.06,2015.58 319.44,2019.90 322.81,2024.17 326.19,2028.39 329.56,2032.55 332.94,2036.66 336.31,2040.71 339.69,2044.71 343.06,2048.65 346.44,2052.54 349.81,2056.37 353.19,2060.15 356.56,2063.87 359.94,2067.54 363.31,2071.16 366.69,2074.72 370.06,2078.22 373.44,2081.67 376.81,2085.07 380.19,2088.41 383.56,2091.69 386.94,2094.92 390.32,2098.10 393.69,2101.22 397.07,2104.29 400.44,2107.30 403.82,2110.26 407.19,2113.16 410.57,2116.01 413.94,2118.80 417.32,2121.54 420.69,2124.22 424.07,2126.85 427.44,2129.42 430.82,2131.94 434.19,2134.41 437.57,2136.82 440.94,2139.17 444.32,2141.47 447.69,2143.71 451.07,2145.91 454.44,2148.04 457.82,2150.12 461.19,2152.15 464.57,2154.12 467.94,2156.04 471.32,2157.90 474.70,2159.70 478.07,2161.46 481.45,2163.15 484.82,2164.80 488.20,2166.39 491.57,2167.92 494.95,2169.40 498.32,2170.82 501.70,2172.19 505.07,2173.50 508.45,2174.76 511.82,2175.97 515.20,2177.12 518.57,2178.21 521.95,2179.25 525.32,2180.24 528.70,2181.17 532.07,2182.05 535.45,2182.87 538.82,2183.63 542.20,2184.35 545.57,2185.00 548.95,2185.61 552.32,2186.15 555.70,2186.65 559.07,2187.08 562.45,2187.47 565.83,2187.80 569.20,2188.07 572.58,2188.29 575.95,2188.45 579.33,2188.56 582.70,2188.62 586.08,2188.62 589.45,2188.56 592.83,2188.45 596.20,2188.29 599.58,2188.07 602.95,2187.80 606.33,2187.47 609.70,2187.08 613.08,2186.65 616.45,2186.15 619.83,2185.61 623.20,2185.00 626.58,2184.35 629.95,2183.63 633.33,2182.87 636.70,2182.05 640.08,2181.17 643.45,2180.24 646.83,2179.25 650.21,2178.21 653.58,2177.12 656.96,2175.97 660.33,2174.76 663.71,2173.50 667.08,2172.19 670.46,2170.82 673.83,2169.40 677.21,2167.92 680.58,2166.39 683.96,2164.80 687.33,2163.15 690.71,2161.46 694.08,2159.70 697.46,2157.90 700.83,2156.04 704.21,2154.12 707.58,2152.15 710.96,2150.12 714.33,2148.04 717.71,2145.91 721.08,2143.71 724.46,2141.47 727.83,2139.17 731.21,2136.82 734.59,2134.41 737.96,2131.94 741.34,2129.42 744.71,2126.85 748.09,2124.22 751.46,2121.54 754.84,2118.80 758.21,2116.01 761.59,2113.16 764.96,2110.26 768.34,2107.30 771.71,2104.29 775.09,2101.22 778.46,2098.10 781.84,2094.92 785.21,2091.69 788.59,2088.41 791.96,2085.07 795.34,2081.67 798.71,2078.22 802.09,2074.72 805.46,2071.16 808.84,2067.54 812.21,2063.87 815.59,2060.15 818.96,2056.37 822.34,2052.54 825.72,2048.65 829.09,2044.71 832.47,2040.71 835.84,2036.66 839.22,2032.55 842.59,2028.39 845.97,2024.17 849.34,2019.90 852.72,2015.58 856.09,2011.20 859.47,2006.76 862.84,2002.27 866.22,1997.72 869.59,1993.12 872.97,1988.47 876.34,1983.76 879.72,1979.00 883.09,1974.18 886.47,1969.30 889.84,1964.38 893.22,1959.39 896.59,1954.35 899.97,1949.26 903.34,1944.11 906.72,1938.91 910.10,1933.66 913.47,1928.34 916.85,1922.98 920.22,1917.56 923.60,1912.08 926.97,1906.55 930.35,1900.96 933.72,1895.32 937.10,1889.63 940.47,1883.88 943.85,1878.07 947.22,1872.21 950.60,1866.30 953.97,1860.33 957.35,1854.31 960.72,1848.23 964.10,1842.10"/>
<polyline fill="none" stroke="#EDB120" stroke-width="4.50" stroke-linejoin="round" points="204.68,2345.22 208.06,2330.87 211.43,2316.84 214.81,2303.12 218.18,2289.72 221.56,2276.63 224.93,2263.85 228.31,2251.37 231.68,2239.20 235.06,2227.32 238.43,2215.74 241.81,2204.46 245.18,2193.47 248.56,2182.76 251.93,2172.34 255.31,2162.20 258.68,2152.35 262.06,2142.77 265.43,2133.46 268.81,2124.42 272.18,2115.65 275.56,2107.15 278.93,2098.91 282.31,2090.93 285.68,2083.20 289.06,2075.73 292.43,2068.51 295.81,2061.53 299.19,2054.81 302.56,2048.32 305.94,2042.08 309.31,2036.07 312.69,2030.29 316.06,2024.74 319.44,2019.43 322.81,2014.33 326.19,2009.46 329.56,2004.81 332.94,2000.38 336.31,1996.16 339.69,1992.15 343.06,1988.35 346.44,1984.75 349.81,1981.35 353.19,1978.16 356.56,1975.16 359.94,1972.35 363.31,1969.74 366.69,1967.31 370.06,1965.07 373.44,1963.00 376.81,1961.12 380.19,1959.42 383.56,1957.89 386.94,1956.52 390.32,1955.33 393.69,1954.30 397.07,1953.43 400.44,1952.73 403.82,1952.18 407.19,1951.78 410.57,1951.53 413.94,1951.43 417.32,1951.47 420.69,1951.66 424.07,1951.99 427.44,1952.45 430.82,1953.04 434.19,1953.77 437.57,1954.62 440.94,1955.60 444.32,1956.70 447.69,1957.92 451.07,1959.25 454.44,1960.70 457.82,1962.26 461.19,1963.92 464.57,1965.69 467.94,1967.57 471.32,1969.54 474.70,1971.60 478.07,1973.76 481.45,1976.02 484.82,1978.35 488.20,1980.78 491.57,1983.28 494.95,1985.86 498.32,1988.52 501.70,1991.25 505.07,1994.06 508.45,1996.93 511.82,1999.86 515.20,2002.86 518.57,2005.91 521.95,2009.02 525.32,2012.18 528.70,2015.40 532.07,2018.66 535.45,2021.96 538.82,2025.31 542.20,2028.70 545.57,2032.12 548.95,2035.57 552.32,2039.06 555.70,2042.57 559.07,2046.11 562.45,2049.66 565.83,2053.24 569.20,2056.83 572.58,2060.44 575.95,2064.05 579.33,2067.67 582.70,2071.30 586.08,2074.93 589.45,2078.56 592.83,2082.18 596.20,2085.79 599.58,2089.40 602.95,2092.99 606.33,2096.57 609.70,2100.12 613.08,2103.66 616.45,2107.17 619.83,2110.66 623.20,2114.11 626.58,2117.53 629.95,2120.92 633.33,2124.27 636.70,2127.57 640.08,2130.83 643.45,2134.05 646.83,2137.21 650.21,2140.32 653.58,2143.37 656.96,2146.37 660.33,2149.30 663.71,2152.17 667.08,2154.98 670.46,2157.71 673.83,2160.37 677.21,2162.95 680.58,2165.46 683.96,2167.88 687.33,2170.22 690.71,2172.47 694.08,2174.63 697.46,2176.69 700.83,2178.66 704.21,2180.54 707.58,2182.31 710.96,2183.97 714.33,2185.53 717.71,2186.98 721.08,2188.31 724.46,2189.53 727.83,2190.63 731.21,2191.61 734.59,2192.46 737.96,2193.19 741.34,2193.78 744.71,2194.24 748.09,2194.57 751.46,2194.76 754.84,2194.80 758.21,2194.70 761.59,2194.45 764.96,2194.06 768.34,2193.50 771.71,2192.80 775.09,2191.93 778.46,2190.90 781.84,2189.71 785.21,2188.35 788.59,2186.81 791.96,2185.11 795.34,2183.23 798.71,2181.17 802.09,2178.92 805.46,2176.49 808.84,2173.88 812.21,2171.07 815.59,2168.07 818.96,2164.88 822.34,2161.48 825.72,2157.88 829.09,2154.08 832.47,2150.07 835.84,2145.85 839.22,2141.42 842.59,2136.77 845.97,2131.90 849.34,2126.80 852.72,2121.49 856.09,2115.94 859.47,2110.17 862.84,2104.16 866.22,2097.91 869.59,2091.42 872.97,2084.70 876.34,2077.72 879.72,2070.50 883.09,2063.03 886.47,2055.31 889.84,2047.32 893.22,2039.08 896.59,2030.58 899.97,2021.81 903.34,2012.77 906.72,2003.47 910.10,1993.88 913.47,1984.03 916.85,1973.89 920.22,1963.47 923.60,1952.76 926.97,1941.77 930.35,1930.49 933.72,1918.91 937.10,1907.03 940.47,1894.86 943.85,1882.38 947.22,1869.60 950.60,1856.51 953.97,1843.11 957.35,1829.39 960.72,1815.36 964.10,1801.01"/>
<polyline fill="none" stroke="#7E2F8E" stroke-width="4.50" stroke-linejoin="round" points="204.68,1765.96 208.06,1792.72 211.43,1818.41 214.81,1843.06 218.18,1866.68 221.56,1889.29 224.93,1910.93 228.31,1931.60 231.68,1951.33 235.06,1970.15 238.43,1988.07 241.81,2005.12 245.18,2021.31 248.56,2036.67 251.93,2051.21 255.31,2064.96 258.68,2077.93 262.06,2090.14 265.43,2101.62 268.81,2112.39 272.18,2122.45 275.56,2131.84 278.93,2140.56 282.31,2148.64 285.68,2156.10 289.06,2162.95 292.43,2169.22 295.81,2174.91 299.19,2180.04 302.56,2184.64 305.94,2188.73 309.31,2192.30 312.69,2195.39 316.06,2198.01 319.44,2200.18 322.81,2201.91 326.19,2203.21 329.56,2204.11 332.94,2204.62 336.31,2204.75 339.69,2204.52 343.06,2203.94 346.44,2203.02 349.81,2201.79 353.19,2200.26 356.56,2198.43 359.94,2196.33 363.31,2193.97 366.69,2191.35 370.06,2188.50 373.44,2185.42 376.81,2182.14 380.19,2178.65 383.56,2174.98 386.94,2171.13 390.32,2167.12 393.69,2162.96 397.07,2158.66 400.44,2154.24 403.82,2149.69 407.19,2145.04 410.57,2140.30 413.94,2135.46 417.32,2130.56 420.69,2125.59 424.07,2120.56 427.44,2115.49 430.82,2110.39 434.19,2105.25 437.57,2100.10 440.94,2094.95 444.32,2089.79 447.69,2084.64 451.07,2079.51 454.44,2074.40 457.82,2069.32 461.19,2064.29 464.57,2059.30 467.94,2054.37 471.32,2049.50 474.70,2044.70 478.07,2039.98 481.45,2035.33 484.82,2030.78 488.20,2026.32 491.57,2021.96 494.95,2017.71 498.32,2013.56 501.70,2009.54 505.07,2005.63 508.45,2001.86 511.82,1998.21 515.20,1994.70 518.57,1991.33 521.95,1988.10 525.32,1985.02 528.70,1982.09 532.07,1979.31 535.45,1976.70 538.82,1974.24 542.20,1971.95 545.57,1969.82 548.95,1967.87 552.32,1966.08 555.70,1964.47 559.07,1963.03 562.45,1961.76 565.83,1960.68 569.20,1959.77 572.58,1959.05 575.95,1958.50 579.33,1958.14 582.70,1957.96 586.08,1957.96 589.45,1958.14 592.83,1958.50 596.20,1959.05 599.58,1959.77 602.95,1960.68 606.33,1961.76 609.70,1963.03 613.08,1964.47 616.45,1966.08 619.83,1967.87 623.20,1969.82 626.58,1971.95 629.95,1974.24 633.33,1976.70 636.70,1979.31 640.08,1982.09 643.45,1985.02 646.83,1988.10 650.21,1991.33 653.58,1994.70 656.96,1998.21 660.33,2001.86 663.71,2005.63 667.08,2009.54 670.46,2013.56 673.83,2017.71 677.21,2021.96 680.58,2026.32 683.96,2030.78 687.33,2035.33 690.71,2039.98 694.08,2044.70 697.46,2049.50 700.83,2054.37 704.21,2059.30 707.58,2064.29 710.96,2069.32 714.33,2074.40 717.71,2079.51 721.08,2084.64 724.46,2089.79 727.83,2094.95 731.21,2100.10 734.59,2105.25 737.96,2110.39 741.34,2115.49 744.71,2120.56 748.09,2125.59 751.46,2130.56 754.84,2135.46 758.21,2140.30 761.59,2145.04 764.96,2149.69 768.34,2154.24 771.71,2158.66 775.09,2162.96 778.46,2167.12 781.84,2171.13 785.21,2174.98 788.59,2178.65 791.96,2182.14 795.34,2185.42 798.71,2188.50 802.09,2191.35 805.46,2193.97 808.84,2196.33 812.21,2198.43 815.59,2200.26 818.96,2201.79 822.34,2203.02 825.72,2203.94 829.09,2204.52 832.47,2204.75 835.84,2204.62 839.22,2204.11 842.59,2203.21 845.97,2201.91 849.34,2200.18 852.72,2198.01 856.09,2195.39 859.47,2192.30 862.84,2188.73 866.22,2184.64 869.59,2180.04 872.97,2174.91 876.34,2169.22 879.72,2162.95 883.09,2156.10 886.47,2148.64 889.84,2140.56 893.22,2131.84 896.59,2122.45 899.97,2112.39 903.34,2101.62 906.72,2090.14 910.10,2077.93 913.47,2064.96 916.85,2051.21 920.22,2036.67 923.60,2021.31 926.97,2005.12 930.35,1988.07 933.72,1970.15 937.10,1951.33 940.47,1931.60 943.85,1910.93 947.22,1889.29 950.60,1866.68 953.97,1843.06 957.35,1818.41 960.72,1792.72 964.10,1765.96"/>
<rect x="120.30" y="1707.50" width="877.55" height="679.00" fill="none" stroke="#262626" stroke-width="1.5"/>
<path d="M289.06 2386.50V2376.80M289.06 1707.50V1717.20M457.82 2386.50V2376.80M457.82 1707.50V1717.20M626.58 2386.50V2376.80M626.58 1707.50V1717.20M795.34 2386.50V2376.80M795.34 1707.50V1717.20M964.10 2386.50V2376.80M964.10 1707.50V1717.20M120.30 2282.04H130.00M997.85 2282.04H988.15M120.30 2177.58H130.00M997.85 2177.58H988.15M120.30 2073.12H130.00M997.85 2073.12H988.15M120.30 1968.65H130.00M997.85 1968.65H988.15M120.30 1864.19H130.00M997.85 1864.19H988.15M120.30 1759.73H130.00M997.85 1759.73H988.15" stroke="#262626" stroke-width="1.5" fill="none"/>
<text class="t" x="120.30" y="2435.30" text-anchor="middle">0</text>
<text class="t" x="289.06" y="2435.30" text-anchor="middle">500</text>
<text class="t" x="457.82" y="2435.30" text-anchor="middle">1000</text>
<text class="t" x="626.58" y="2435.30" text-anchor="middle">1500</text>
<text class="t" x="795.34" y="2435.30" text-anchor="middle">2000</text>
<text class="t" x="964.10" y="2435.30" text-anchor="middle">2500</text>
<text class="t" x="105.50" y="2400.70" text-anchor="end">3</text>
<rect x="76.40" y="2390.55" width="9.20" height="2.50" fill="#262626"/>
<text class="t" x="106.95" y="2296.24" text-anchor="end">2</text>
<rect x="76.40" y="2286.09" width="9.20" height="2.50" fill="#262626"/>
<text class="t" x="106.05" y="2191.78" text-anchor="end">1</text>
<rect x="76.40" y="2181.63" width="9.20" height="2.50" fill="#262626"/>
<text class="t" x="107.00" y="2087.32" text-anchor="end">0</text>
<text class="t" x="106.05" y="1982.85" text-anchor="end">1</text>
<text class="t" x="106.95" y="1878.39" text-anchor="end">2</text>
<text class="t" x="105.50" y="1773.93" text-anchor="end">3</text>
<text class="l" x="559.00" y="2483.30" text-anchor="middle">Wavelength / nm</text>
<text class="l" style="font-size:41.70px" transform="translate(57.00 2047.55) rotate(-90)" text-anchor="middle">Deviation</text>
<text class="p" x="34.80" y="1773.23">c</text><text class="p" x="56.50" y="1773.23">)</text>
<path d="M296.10 1760.06H377.10" stroke="#0072BD" stroke-width="4.50"/>
<text class="g" transform="translate(382.70 1766.66) skewX(-14.0)">g</text><text class="s" x="400.70" y="1782.46">1</text>
<path d="M431.60 1760.06H512.60" stroke="#D95319" stroke-width="4.50"/>
<text class="g" transform="translate(518.20 1766.66) skewX(-14.0)">g</text><text class="s" x="536.20" y="1782.46">2</text>
<path d="M567.00 1760.06H648.00" stroke="#EDB120" stroke-width="4.50"/>
<text class="g" transform="translate(653.60 1766.66) skewX(-14.0)">g</text><text class="s" x="671.60" y="1782.46">3</text>
<path d="M702.60 1760.06H783.60" stroke="#7E2F8E" stroke-width="4.50"/>
<text class="g" transform="translate(789.20 1766.66) skewX(-14.0)">g</text><text class="s" x="807.20" y="1782.46">4</text>
</svg></body></html>
